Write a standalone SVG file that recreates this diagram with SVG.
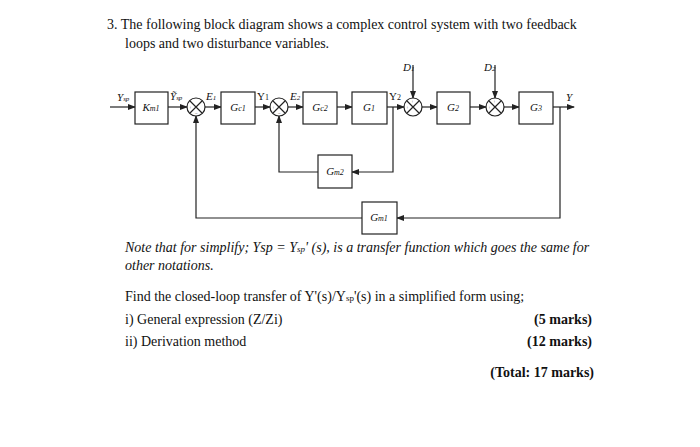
<svg xmlns="http://www.w3.org/2000/svg" width="700" height="447" viewBox="0 0 700 447">
<defs><marker id="a" markerWidth="8" markerHeight="6" refX="7" refY="3" orient="auto" markerUnits="userSpaceOnUse"><path d="M0,0L8,3L0,6z" fill="#222"/></marker></defs>
<style>
text{font-family:"Liberation Serif",serif;fill:#111}
.t{font-size:14px}
.l{font-size:11px;font-style:italic}
.b{fill:#fff;stroke:#222;stroke-width:1.2}
.w{stroke:#222;stroke-width:1.2;fill:none}
</style>
<rect width="700" height="447" fill="#fff"/>
<text class="t" x="107" y="29">3.  The following block diagram shows a complex control system with two feedback</text>
<text class="t" x="125" y="48">loops and two disturbance variables.</text>
<g id="connectors">
<path class="w" marker-end="url(#a)" d="M110,107H135"/>
<path class="w" marker-end="url(#a)" d="M168,107H187"/>
<path class="w" marker-end="url(#a)" d="M205,107H221"/>
<path class="w" marker-end="url(#a)" d="M255,107H270"/>
<path class="w" marker-end="url(#a)" d="M288,107H303"/>
<path class="w" marker-end="url(#a)" d="M337,107H352"/>
<path class="w" marker-end="url(#a)" d="M387,107H404"/>
<path class="w" marker-end="url(#a)" d="M422,107H437"/>
<path class="w" marker-end="url(#a)" d="M470,107H486"/>
<path class="w" marker-end="url(#a)" d="M504,107H519"/>
<path class="w" marker-end="url(#a)" d="M553,107H574"/>
<path class="w" marker-end="url(#a)" d="M413,65V98"/>
<path class="w" marker-end="url(#a)" d="M495,65V98"/>
<path class="w" marker-end="url(#a)" d="M393,107V172H352"/>
<path class="w" marker-end="url(#a)" d="M318,172H279V116"/>
<path class="w" marker-end="url(#a)" d="M560,107V218H397"/>
<path class="w" marker-end="url(#a)" d="M362,218H196V116"/>
</g>
<g id="Km1"><rect class="b" x="135" y="92" width="33" height="32"/><text class="l" x="151" y="111" text-anchor="middle">K<tspan font-size="8">m1</tspan></text></g>
<g id="Gc1"><rect class="b" x="221" y="92" width="34" height="32"/><text class="l" x="238" y="111" text-anchor="middle">G<tspan font-size="8">c1</tspan></text></g>
<g id="Gc2"><rect class="b" x="303" y="92" width="34" height="32"/><text class="l" x="320" y="111" text-anchor="middle">G<tspan font-size="8">c2</tspan></text></g>
<g id="G1"><rect class="b" x="352" y="92" width="35" height="32"/><text class="l" x="369" y="111" text-anchor="middle">G<tspan font-size="8">1</tspan></text></g>
<g id="G2"><rect class="b" x="437" y="92" width="33" height="32"/><text class="l" x="453" y="111" text-anchor="middle">G<tspan font-size="8">2</tspan></text></g>
<g id="G3"><rect class="b" x="519" y="92" width="34" height="32"/><text class="l" x="536" y="111" text-anchor="middle">G<tspan font-size="8">3</tspan></text></g>
<g id="Gm2"><rect class="b" x="318" y="155" width="34" height="33"/><text class="l" x="335" y="175" text-anchor="middle">G<tspan font-size="8">m2</tspan></text></g>
<g id="Gm1"><rect class="b" x="362" y="202" width="35" height="32"/><text class="l" x="379" y="221" text-anchor="middle">G<tspan font-size="8">m1</tspan></text></g>
<g id="sums">
<g id="S1"><circle class="b" cx="196" cy="107" r="9"/><path class="w" d="M190,101L202,113M202,101L190,113"/><text x="189" y="109" font-size="5">+</text><text x="195" y="115" font-size="5">−</text></g>
<g id="S2"><circle class="b" cx="279" cy="107" r="9"/><path class="w" d="M273,101L285,113M285,101L273,113"/><text x="272" y="109" font-size="5">+</text><text x="278" y="115" font-size="5">−</text></g>
<g id="S3"><circle class="b" cx="413" cy="107" r="9"/><path class="w" d="M407,101L419,113M419,101L407,113"/><text x="406" y="109" font-size="5">+</text><text x="411" y="103" font-size="5">+</text></g>
<g id="S4"><circle class="b" cx="495" cy="107" r="9"/><path class="w" d="M489,101L501,113M501,101L489,113"/><text x="488" y="109" font-size="5">+</text><text x="493" y="103" font-size="5">+</text></g>
</g>
<g id="labels">
<text class="l" x="117" y="101">Y<tspan font-size="7">sp</tspan></text>
<text class="l" x="170" y="100">Ỹ<tspan font-size="7">sp</tspan></text>
<text class="l" x="206" y="100">E<tspan font-size="7">1</tspan></text>
<text x="257" y="100" font-size="11">Y<tspan font-size="8">1</tspan></text>
<text class="l" x="290" y="100">E<tspan font-size="7">2</tspan></text>
<text x="389" y="100" font-size="11">Y<tspan font-size="8">2</tspan></text>
<text class="l" x="403" y="71">D<tspan font-size="7">1</tspan></text>
<text class="l" x="484" y="71">D<tspan font-size="7">2</tspan></text>
<text class="l" x="566" y="101">Y</text>
</g>
<text class="t" x="125" y="252" font-style="italic">Note that for simplify; Ysp = Y<tspan font-size="9">sp</tspan>' (s), is a transfer function which goes the same for</text>
<text class="t" x="125" y="270" font-style="italic">other notations.</text>
<text class="t" x="125" y="301">Find the closed-loop transfer of Y'(s)/Y<tspan font-size="9">sp</tspan>'(s) in a simplified form using;</text>
<text class="t" x="125" y="324">i)   General expression (Z/Zi)</text>
<text class="t" x="125" y="346">ii)  Derivation method</text>
<text class="t" x="592" y="324" text-anchor="end" font-weight="bold">(5 marks)</text>
<text class="t" x="592" y="346" text-anchor="end" font-weight="bold">(12 marks)</text>
<text class="t" x="594" y="377" text-anchor="end" font-weight="bold">(Total: 17 marks)</text>
</svg>
